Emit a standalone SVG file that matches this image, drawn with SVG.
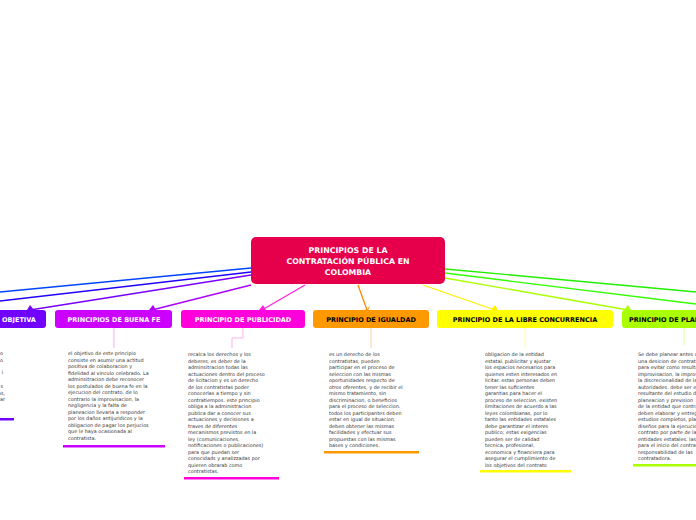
<svg xmlns="http://www.w3.org/2000/svg" width="696" height="520" viewBox="0 0 696 520">
<style>
.t{font-family:"DejaVu Sans",Verdana,sans-serif;font-weight:bold;font-size:6.5px;text-anchor:middle}
.b{font-family:"DejaVu Sans",Verdana,sans-serif;font-size:4.9px;fill:#333}
.c{fill:none;stroke-width:1.3}
</style>
<rect width="696" height="520" fill="#fff"/>
<g id="connectors">
<path class="c" stroke="#0044ff" d="M251,268 L0,292"/>
<path class="c" stroke="#2200ff" d="M251,272 L0,301"/>
<path class="c" stroke="#7700ff" d="M251,275 L30,310"/>
<path class="c" stroke="#aa00ff" d="M251,285 L152,310"/>
<path class="c" stroke="#ff22dd" d="M305,285 L262,310"/>
<path class="c" stroke="#ff8800" d="M358,285 L367,310"/>
<path class="c" stroke="#ffee00" d="M423,285 L495,310"/>
<path class="c" stroke="#aaff00" d="M445,278 L628,310"/>
<path class="c" stroke="#22ee00" d="M445,269 L696,292"/>
<path class="c" stroke="#33ff00" d="M445,273 L696,304"/>
<path fill="#7700ff" d="M27,310 L30,305 L34,310Z"/>
<path fill="#aa00ff" d="M149,310 L153,305 L156,310Z"/>
<path fill="#ff22dd" d="M259,310 L263,305 L266,310Z"/>
<path fill="#ff8800" d="M362,308 L367,310 L370,305 L368,311Z"/>
<path fill="#ffee00" d="M491,310 L495,305 L498,310Z"/>
<path fill="#aaff00" d="M624,310 L628,305 L631,310Z"/>
<path fill="none" stroke="#f0b0f8" d="M114,328 V348"/>
<path fill="none" stroke="#ffb0f0" d="M243,328 V338 H232 V348"/>
<path fill="none" stroke="#ffd0a0" d="M371,328 V348"/>
<path fill="none" stroke="#ffffa0" d="M525,328 V348"/>
<path fill="none" stroke="#ddff99" d="M684,328 V345"/>
</g>
<g id="root">
<rect x="251" y="237" width="194" height="47" rx="5" fill="#e6004c"/>
<text class="t" fill="#fff" style="font-size:7.8px" x="348" y="253">PRINCIPIOS DE LA</text>
<text class="t" fill="#fff" style="font-size:7.8px" x="348" y="264">CONTRATACIÓN PÚBLICA EN</text>
<text class="t" fill="#fff" style="font-size:7.8px" x="348" y="275">COLOMBIA</text>
</g>
<g id="objetiva">
<rect x="-20" y="310" width="66" height="18" rx="3" fill="#7000ff"/>
<text class="t" fill="#fff" x="19" y="322">OBJETIVA</text>
<g class="b" style="text-anchor:end"><text x="3" y="355">o</text><text x="3" y="362">o</text><text x="3" y="374">i</text><text x="3" y="388">s</text><text x="5" y="395">os,</text><text x="5" y="401">ar</text></g>
<rect x="0" y="418" width="14" height="2.5" fill="#7000ff"/>
</g>
<g id="buenafe">
<rect x="55" y="310" width="117" height="18" rx="3" fill="#cc00ff"/>
<text class="t" fill="#fff" x="114" y="322">PRINCIPIOS DE BUENA FE</text>
<text class="b" x="68" y="355"><tspan x="68">el objetivo de este principio</tspan><tspan x="68" dy="6.5">consiste en asumir una actitud</tspan><tspan x="68" dy="6.5">positiva de colaboracion y</tspan><tspan x="68" dy="6.5">fidelidad al vinculo celebrado. La</tspan><tspan x="68" dy="6.5">adminsitracion debe reconocer</tspan><tspan x="68" dy="6.5">los postulados de buena fe en la</tspan><tspan x="68" dy="6.5">ejecucion del contrato, de lo</tspan><tspan x="68" dy="6.5">contrario la improvisacion, la</tspan><tspan x="68" dy="6.5">negligencia y la falta de</tspan><tspan x="68" dy="6.5">planeacion llevaria a responder</tspan><tspan x="68" dy="6.5">por los daños antijuridicos y la</tspan><tspan x="68" dy="6.5">obligacion de pagar los perjucios</tspan><tspan x="68" dy="6.5">que le haya ocasionada al</tspan><tspan x="68" dy="6.5">contratista.</tspan></text>
<rect x="63" y="445" width="102" height="2.5" fill="#cc00ff"/>
</g>
<g id="publicidad">
<rect x="181" y="310" width="124" height="18" rx="3" fill="#ff00dd"/>
<text class="t" fill="#fff" x="243" y="322">PRINCIPIO DE PUBLICIDAD</text>
<text class="b" x="188" y="356"><tspan x="188">recalca los derechos y los</tspan><tspan x="188" dy="6.5">deberes, es deber de la</tspan><tspan x="188" dy="6.5">adminsitracion todas las</tspan><tspan x="188" dy="6.5">actuaciones dentro del proceso</tspan><tspan x="188" dy="6.5">de licitacion y es un derecho</tspan><tspan x="188" dy="6.5">de los contratistas poder</tspan><tspan x="188" dy="6.5">conocerlas a tiempo y sin</tspan><tspan x="188" dy="6.5">contratiempos. este principio</tspan><tspan x="188" dy="6.5">obliga a la administracion</tspan><tspan x="188" dy="6.5">publica dar a conocer sus</tspan><tspan x="188" dy="6.5">actuaciones y decisiones a</tspan><tspan x="188" dy="6.5">traves de diferentes</tspan><tspan x="188" dy="6.5">mecanismos previstos en la</tspan><tspan x="188" dy="6.5">ley (comunicaciones,</tspan><tspan x="188" dy="6.5">notificaciones o publicaciones)</tspan><tspan x="188" dy="6.5">para que puedan ser</tspan><tspan x="188" dy="6.5">conocidads y analizzadas por</tspan><tspan x="188" dy="6.5">quieren obrarab como</tspan><tspan x="188" dy="6.5">contratistas.</tspan></text>
<rect x="184" y="477" width="95" height="2.5" fill="#ff00dd"/>
</g>
<g id="igualdad">
<rect x="313" y="310" width="116" height="18" rx="3" fill="#ff9900"/>
<text class="t" fill="#000" x="371" y="322">PRINCIPIO DE IGUALDAD</text>
<text class="b" x="329" y="356"><tspan x="329">es un derecho de los</tspan><tspan x="329" dy="6.5">contratistas, pueden</tspan><tspan x="329" dy="6.5">participar en el proceso de</tspan><tspan x="329" dy="6.5">seleccion con las mismas</tspan><tspan x="329" dy="6.5">oportunidades respecto de</tspan><tspan x="329" dy="6.5">otros oferentes, y de recibir el</tspan><tspan x="329" dy="6.5">mismo tratamiento, sin</tspan><tspan x="329" dy="6.5">discriminacion, o beneficios</tspan><tspan x="329" dy="6.5">para el proceso de seleccion.</tspan><tspan x="329" dy="6.5">todos los participantes deben</tspan><tspan x="329" dy="6.5">estar en igual de situacion,</tspan><tspan x="329" dy="6.5">deben obtener las mismas</tspan><tspan x="329" dy="6.5">facilidades y efectuar sus</tspan><tspan x="329" dy="6.5">propuestas con las mismas</tspan><tspan x="329" dy="6.5">bases y condiciones.</tspan></text>
<rect x="324" y="451" width="95" height="2.5" fill="#ff9900"/>
</g>
<g id="concurrencia">
<rect x="437" y="310" width="176" height="18" rx="3" fill="#ffff00"/>
<text class="t" fill="#000" x="525" y="322">PRINCIPIO DE LA LIBRE CONCURRENCIA</text>
<text class="b" x="485" y="356"><tspan x="485">obligacion de la entidad</tspan><tspan x="485" dy="6.5">estatal, publicitar y ajustar</tspan><tspan x="485" dy="6.5">los espacios necesarios para</tspan><tspan x="485" dy="6.5">quienes esten interesados en</tspan><tspan x="485" dy="6.5">licitar. estas personas deben</tspan><tspan x="485" dy="6.5">tener las suficientes</tspan><tspan x="485" dy="6.5">garantias para hacer el</tspan><tspan x="485" dy="6.5">proceso de seleccion. existen</tspan><tspan x="485" dy="6.5">limitaciones de acuerdo a las</tspan><tspan x="485" dy="6.5">leyes colombianas, por lo</tspan><tspan x="485" dy="6.5">tanto las entidades estatales</tspan><tspan x="485" dy="6.5">debe garantizar el interes</tspan><tspan x="485" dy="6.5">publico; estas exigencias</tspan><tspan x="485" dy="6.5">pueden ser de calidad</tspan><tspan x="485" dy="6.5">tecnica, profesional,</tspan><tspan x="485" dy="6.5">economica y financiera para</tspan><tspan x="485" dy="6.5">asegurar el cumplimiento de</tspan><tspan x="485" dy="6.5">los objetivos del contrato</tspan></text>
<rect x="480" y="470" width="91" height="2.5" fill="#ffff00"/>
</g>
<g id="planeacion">
<rect x="622" y="310" width="90" height="18" rx="3" fill="#aaff00"/>
<text class="t" fill="#000" x="629" y="322" style="text-anchor:start">PRINCIPIO DE PLANEACION</text>
<text class="b" x="638" y="356"><tspan x="638">Se debe planear antes de tomar</tspan><tspan x="638" dy="6.5">una desicion de contratacion</tspan><tspan x="638" dy="6.5">para evitar como resultado la</tspan><tspan x="638" dy="6.5">improvisacion,  la improvisacion y</tspan><tspan x="638" dy="6.5">la discrecionalidad de las</tspan><tspan x="638" dy="6.5">autoridades. debe ser el</tspan><tspan x="638" dy="6.5">resultante del estudio de</tspan><tspan x="638" dy="6.5">planeacion y prevision</tspan><tspan x="638" dy="6.5">de la entidad que contrata,</tspan><tspan x="638" dy="6.5">deben elaborar y entregar</tspan><tspan x="638" dy="6.5">estudios completos, planos y</tspan><tspan x="638" dy="6.5">diseños para la ejecucion del</tspan><tspan x="638" dy="6.5">contrato por parte de las</tspan><tspan x="638" dy="6.5">entidades estatales. las bases</tspan><tspan x="638" dy="6.5">para el inicio del contrato son</tspan><tspan x="638" dy="6.5">responsabilidad de las</tspan><tspan x="638" dy="6.5">contratadora.</tspan></text>
<rect x="633" y="464" width="63" height="2.5" fill="#aaff00"/>
</g>
</svg>
